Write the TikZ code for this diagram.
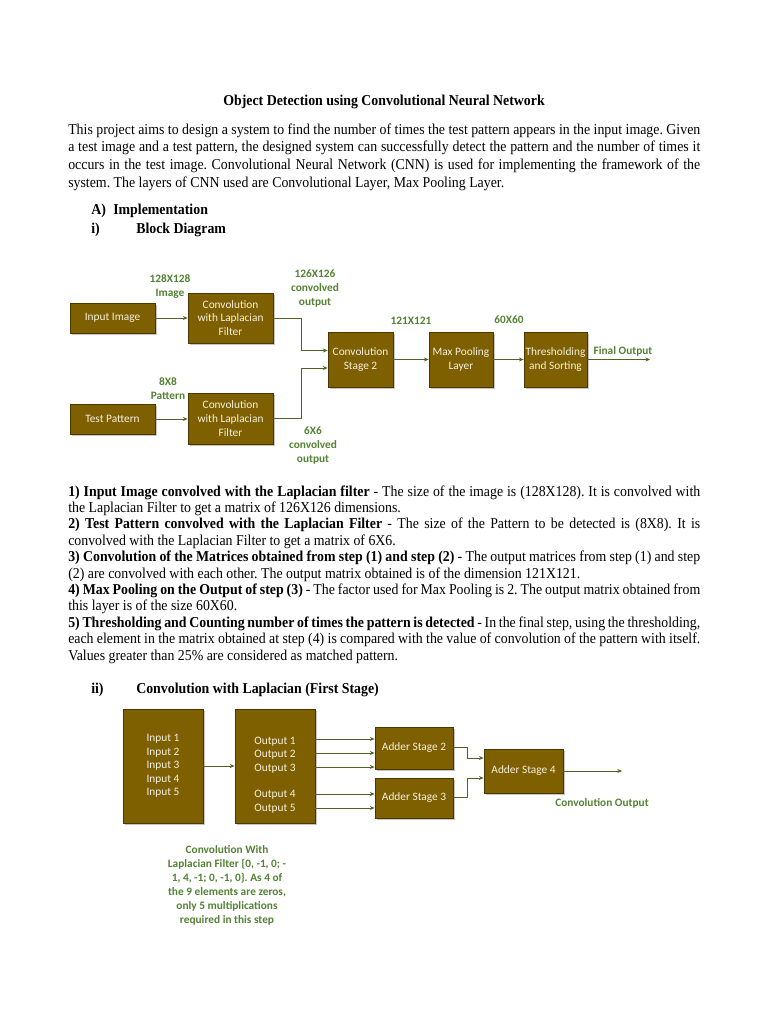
\documentclass[tikz,border=0pt]{standalone}
\usepackage{fontspec}
\setmainfont{Liberation Serif}[FakeStretch=0.92]
\newfontfamily\calibri{Carlito}
\usetikzlibrary{arrows.meta,calc,shadows}
\frenchspacing
\definecolor{boxfill}{HTML}{7F6000}
\definecolor{boxedge}{HTML}{4A3800}
\definecolor{boxtext}{HTML}{F4F0E2}
\definecolor{lblgreen}{HTML}{548235}
\definecolor{arrowc}{HTML}{4F6228}
\tikzset{
  blk/.style={draw=boxedge, line width=0.6pt, fill=boxfill, text=boxtext,
    font=\calibri\fontsize{8.5}{10.3}\selectfont, align=center, inner sep=0pt,
    drop shadow={shadow xshift=1.2pt, shadow yshift=-1.2pt, opacity=0.45}},
  boxtxt/.style={text=boxtext, font=\calibri\fontsize{8.5}{10.1}\selectfont, align=center, inner sep=0pt},
  lbl/.style={text=lblgreen, font=\calibri\bfseries\fontsize{8.5}{10.5}\selectfont, align=center, inner sep=0pt},
  arr/.style={draw=arrowc, line width=0.75pt, -{Stealth[length=3.5pt,width=3pt]}},
  body/.style={anchor=base west, inner sep=0pt, font=\fontsize{11.3}{13}\selectfont\frenchspacing},
  head/.style={anchor=base west, inner sep=0pt, font=\fontsize{11.3}{13}\selectfont\bfseries},
}
\newcommand\jline[3]{\node[body] (#1) at (68,#2) {\makebox[474pt][s]{#3}};}
\newcommand\lline[3]{\node[body] (#1) at (68,#2) {#3};}
\begin{document}
\begin{tikzpicture}[x=0.75pt,y=-0.75pt]
\fill[white] (0,0) rectangle (768,1024);
\useasboundingbox (0,0) rectangle (768,1024);

% ---------- text ----------
\node[anchor=base, inner sep=0pt, font=\fontsize{11.3}{13}\selectfont\bfseries] (title) at (384,105) {Object Detection using Convolutional Neural Network};

\jline{p1}{134}{This project aims to design a system to find the number of times the test pattern appears in the input image. Given}
\jline{p2}{151.8}{a test image and a test pattern, the designed system can successfully detect the pattern and the number of times it}
\jline{p3}{169.6}{occurs in the test image. Convolutional Neural Network (CNN) is used for implementing the framework of the}
\lline{p4}{187.4}{system. The layers of CNN used are Convolutional Layer, Max Pooling Layer.}

\node[head] (hA) at (91,214) {A)};
\node[head] (hAt) at (113,214) {Implementation};
\node[head] (hi) at (91,233) {i)};
\node[head] (hit) at (136,233) {Block Diagram};

\jline{s1}{496}{\textbf{1) Input Image convolved with the Laplacian filter} - The size of the image is (128X128). It is convolved with}
\lline{s2}{512.4}{the Laplacian Filter to get a matrix of 126X126 dimensions.}
\jline{s3}{528.8}{\textbf{2) Test Pattern convolved with the Laplacian Filter} - The size of the Pattern to be detected is (8X8). It is}
\lline{s4}{545.2}{convolved with the Laplacian Filter to get a matrix of 6X6.}
\jline{s5}{561.6}{\textbf{3) Convolution of the Matrices obtained from step (1) and step (2)} - The output matrices from step (1) and step}
\lline{s6}{578}{(2) are convolved with each other. The output matrix obtained is of the dimension 121X121.}
\jline{s7}{594.4}{\textbf{4) Max Pooling on the Output of step (3)} - The factor used for Max Pooling is 2. The output matrix obtained from}
\lline{s8}{610.8}{this layer is of the size 60X60.}
\jline{s9}{627.2}{\textbf{5) Thresholding and Counting number of times the pattern is detected} - In the final step, using the thresholding,}
\jline{s10}{643.6}{each element in the matrix obtained at step (4) is compared with the value of convolution of the pattern with itself.}
\lline{s11}{660}{Values greater than 25\% are considered as matched pattern.}

\node[head] (hii) at (91,693) {ii)};
\node[head] (hiit) at (136,693) {Convolution with Laplacian (First Stage)};

% ---------- block diagram ----------
\node[blk, minimum width=85*0.75pt, minimum height=30*0.75pt] (inimg) at (112.5,318) {Input Image};
\node[blk, minimum width=85*0.75pt, minimum height=50*0.75pt] (conv1) at (230.5,318) {Convolution\\with Laplacian\\Filter};
\node[blk, minimum width=85*0.75pt, minimum height=30*0.75pt] (testp) at (112.5,419) {Test Pattern};
\node[blk, minimum width=85*0.75pt, minimum height=51*0.75pt] (conv2) at (230.5,418.5) {Convolution\\with Laplacian\\Filter};
\node[blk, minimum width=65*0.75pt, minimum height=55*0.75pt] (cs2) at (360.5,359.5) {Convolution\\Stage 2};
\node[blk, minimum width=64*0.75pt, minimum height=55*0.75pt] (maxp) at (461,359.5) {Max Pooling\\Layer};
\node[blk, minimum width=63*0.75pt, minimum height=55*0.75pt] (thr) at (555.5,359.5) {Thresholding\\and Sorting};
\coordinate (fout) at (650,359.5);

\node[lbl] (l128) at (170,287) {128X128\\Image};
\node[lbl] (l126) at (315,289) {126X126\\convolved\\output};
\node[lbl] (l8) at (168,389) {8X8\\Pattern};
\node[lbl] (l6) at (313,446) {6X6\\convolved\\output};
\node[lbl] (l121) at (411,321) {121X121};
\node[lbl] (l60) at (509,320) {60X60};
\node[lbl] (lfin) at (623,351) {Final Output};

\draw[arr] (inimg.east) -- (inimg.east -| conv1.west);
\draw[arr] (testp.east) -- (testp.east -| conv2.west);
\draw[arr] (conv1.east) -- ++(28,0) |- ($(cs2.west)+(0,-9)$);
\draw[arr] (conv2.east) -- ++(28,0) |- ($(cs2.west)+(0,8.5)$);
\draw[arr] (cs2.east) -- (maxp.west);
\draw[arr] (maxp.east) -- (thr.west);
\draw[arr] (thr.east) -- (fout);

% ---------- second diagram ----------
\node[blk, minimum width=80*0.75pt, minimum height=114*0.75pt, font=\calibri\fontsize{8.5}{10.1}\selectfont] (inbox) at (163,766) {Input 1\\Input 2\\Input 3\\Input 4\\Input 5};
\node[blk, minimum width=80*0.75pt, minimum height=114*0.75pt] (outbox) at (275,766) {};
\node[boxtxt] (outtxt) at (275,775) {Output 1\\Output 2\\Output 3\\[10.1pt]Output 4\\Output 5};
\node[blk, minimum width=78*0.75pt, minimum height=42*0.75pt] (add2) at (414,748) {Adder Stage 2};
\node[blk, minimum width=78*0.75pt, minimum height=40*0.75pt] (add3) at (414,798) {Adder Stage 3};
\node[blk, minimum width=79*0.75pt, minimum height=44*0.75pt] (add4) at (523.5,771) {Adder Stage 4};
\coordinate (cout) at (622,771);

\coordinate (o1) at ($(outbox.east)+(0,-27)$);
\coordinate (o2) at ($(outbox.east)+(0,-13)$);
\coordinate (o3) at ($(outbox.east)+(0,1)$);
\coordinate (o4) at ($(outbox.east)+(0,28)$);
\coordinate (o5) at ($(outbox.east)+(0,42)$);

\draw[arr] (inbox.east) -- (inbox.east -| outbox.west);
\draw[arr] (o1) -- (o1 -| add2.west);
\draw[arr] (o2) -- (o2 -| add2.west);
\draw[arr] (o3) -- (o3 -| add2.west);
\draw[arr] (o4) -- (o4 -| add3.west);
\draw[arr] (o5) -- (o5 -| add3.west);
\draw[arr] ($(add2.east)+(0,-1)$) -- ++(14,0) |- ($(add4.west)+(0,-13)$);
\draw[arr] ($(add3.east)+(0,-1)$) -- ++(14,0) |- ($(add4.west)+(0,7)$);
\draw[arr] (add4.east) -- (cout);

\node[lbl] (lcout) at (602,803) {Convolution Output};
\node[lbl] (capt) at (227,885) {Convolution With\\Laplacian Filter \{0, -1, 0; -\\1, 4, -1; 0, -1, 0\}. As 4 of\\the 9 elements are zeros,\\only 5 multiplications\\required in this step};
\end{tikzpicture}
\end{document}
